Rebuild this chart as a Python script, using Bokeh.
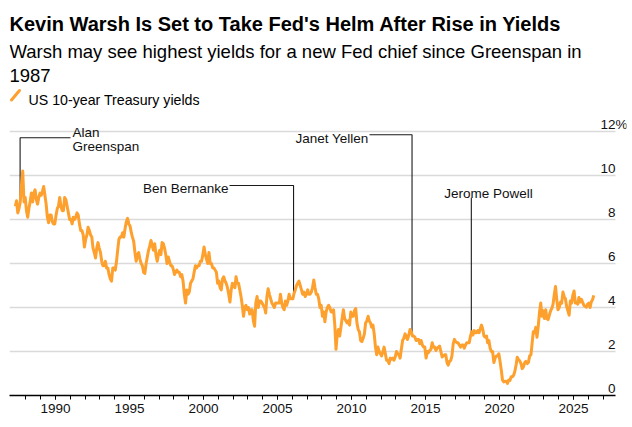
import numpy as np
import pandas as pd
from bokeh.plotting import figure
from bokeh.models import Range1d, FixedTicker
from bokeh.core.properties import value
from bokeh.embed import file_html
from bokeh.resources import INLINE

# ---------------- data ----------------
title_text = "Kevin Warsh Is Set to Take Fed's Helm After Rise in Yields"
subtitle_lines = ["Warsh may see highest yields for a new Fed chief since Greenspan in", "1987"]
series_label = "US 10-year Treasury yields"

first_month = "1987-04"
y1987 = [8.6, 8.85, 8.3, 8.5, 8.8, 9.6, 10.2, 8.8, 9.0]
y1988 = [8.4, 8.1, 8.5, 8.8, 9.2, 8.8, 9.2, 9.35, 8.9, 8.7, 9.0, 9.2]
y1989 = [9.1, 9.3, 9.5, 9.1, 8.7, 8.1, 7.85, 8.2, 8.2, 7.9, 7.8, 7.8]
y1990 = [8.2, 8.5, 8.6, 9.0, 8.6, 8.4, 8.4, 9.0, 8.9, 8.6, 8.3, 8.0]
y1991 = [8.0, 7.8, 8.1, 8.0, 8.1, 8.3, 8.2, 7.8, 7.5, 7.5, 7.3, 6.75]
y1992 = [7.1, 7.3, 7.65, 7.5, 7.3, 7.2, 6.7, 6.5, 6.25, 6.7, 6.95, 6.7]
y1993 = [6.5, 6.1, 5.9, 5.9, 6.1, 5.8, 5.8, 5.5, 5.3, 5.2, 5.8, 5.8]
y1994 = [5.7, 6.1, 6.6, 7.1, 7.2, 7.2, 7.4, 7.2, 7.6, 7.9, 8.05, 7.8]
y1995 = [7.7, 7.4, 7.2, 7.0, 6.5, 6.1, 6.4, 6.5, 6.2, 6.0, 5.9, 5.6]
y1996 = [5.55, 6.0, 6.3, 6.6, 6.8, 7.05, 6.8, 6.6, 6.9, 6.4, 6.1, 6.4]
y1997 = [6.6, 6.4, 6.95, 6.9, 6.7, 6.4, 6.0, 6.3, 6.1, 5.9, 5.9, 5.75]
y1998 = [5.5, 5.6, 5.7, 5.6, 5.6, 5.4, 5.5, 5.2, 4.6, 4.2, 4.8, 4.6]
y1999 = [4.7, 5.1, 5.2, 5.3, 5.6, 5.9, 5.8, 5.9, 5.9, 6.1, 6.1, 6.4]
y2000 = [6.75, 6.4, 6.2, 6.0, 6.5, 6.0, 6.0, 5.8, 5.8, 5.7, 5.6, 5.1]
y2001 = [5.2, 4.9, 4.8, 5.3, 5.4, 5.2, 5.1, 4.9, 4.6, 4.25, 4.8, 5.1]
y2002 = [5.0, 4.9, 5.4, 5.1, 5.1, 4.8, 4.5, 4.1, 3.6, 4.0, 4.1, 3.9]
y2003 = [4.0, 3.7, 3.9, 3.9, 3.4, 3.15, 4.2, 4.5, 4.0, 4.3, 4.3, 4.2]
y2004 = [4.1, 4.0, 3.75, 4.5, 4.85, 4.6, 4.4, 4.2, 4.1, 4.0, 4.2, 4.2]
y2005 = [4.2, 4.2, 4.6, 4.2, 4.0, 3.9, 4.3, 4.1, 4.3, 4.6, 4.4, 4.4]
y2006 = [4.4, 4.65, 4.8, 5.0, 5.1, 5.2, 5.0, 4.8, 4.6, 4.7, 4.5, 4.6]
y2007 = [4.8, 4.6, 4.6, 4.7, 4.9, 5.25, 4.9, 4.6, 4.6, 4.4, 4.0, 4.1]
y2008 = [3.6, 3.8, 3.35, 3.8, 4.0, 4.1, 4.0, 3.8, 3.8, 3.9, 3.2, 2.1]
y2009 = [2.8, 3.0, 2.7, 3.1, 3.5, 3.9, 3.5, 3.4, 3.3, 3.4, 3.2, 3.8]
y2010 = [3.6, 3.6, 3.85, 3.95, 3.3, 3.0, 2.9, 2.5, 2.45, 2.6, 2.8, 3.3]
y2011 = [3.4, 3.6, 3.4, 3.3, 3.1, 3.2, 2.8, 2.2, 1.85, 2.2, 2.0, 1.9]
y2012 = [1.8, 2.0, 2.2, 1.9, 1.6, 1.6, 1.45, 1.7, 1.65, 1.7, 1.6, 1.75]
y2013 = [2.0, 1.9, 1.85, 1.7, 2.1, 2.5, 2.6, 2.8, 2.65, 2.55, 2.75, 3.0]
y2014 = [2.9, 2.7, 2.7, 2.65, 2.5, 2.55, 2.55, 2.35, 2.5, 2.3, 2.2, 2.2]
y2015 = [1.7, 2.0, 1.95, 2.05, 2.1, 2.4, 2.2, 2.2, 2.05, 2.15, 2.2, 2.25]
y2016 = [2.0, 1.75, 1.8, 1.85, 1.85, 1.5, 1.38, 1.55, 1.6, 1.8, 2.35, 2.55]
y2017 = [2.45, 2.4, 2.4, 2.3, 2.2, 2.3, 2.3, 2.15, 2.3, 2.4, 2.4, 2.4]
y2018 = [2.7, 2.9, 2.75, 2.95, 2.85, 2.85, 2.95, 2.85, 3.05, 3.2, 3.0, 2.7]
y2019 = [2.65, 2.7, 2.4, 2.5, 2.15, 2.0, 2.0, 1.5, 1.7, 1.8, 1.8, 1.9]
y2020 = [1.55, 1.15, 0.7, 0.62, 0.65, 0.65, 0.55, 0.7, 0.68, 0.85, 0.85, 0.92]
y2021 = [1.1, 1.4, 1.74, 1.63, 1.58, 1.45, 1.22, 1.3, 1.5, 1.55, 1.45, 1.5]
y2022 = [1.8, 1.85, 2.35, 2.9, 2.85, 3.1, 2.65, 3.15, 3.8, 4.2, 3.6, 3.85]
y2023 = [3.5, 3.9, 3.5, 3.45, 3.65, 3.85, 3.95, 4.15, 4.6, 4.95, 4.35, 3.9]
y2024 = [4.0, 4.25, 4.2, 4.7, 4.5, 4.4, 4.05, 3.85, 3.65, 4.3, 4.2, 4.55]
y2025 = [4.75, 4.2, 4.25, 4.15, 4.45, 4.25, 4.37, 4.23, 4.1, 4.05, 4.02, 4.15]
y2026 = [4.2, 4.0, 4.25, 4.35, 4.55]

year_ticks = [1990, 1995, 2000, 2005, 2010, 2015, 2020, 2025]
minor_years = list(range(1988, 2028))
y_ticks = [0, 2, 4, 6, 8, 10, 12]
y_tick_labels = ["0", "2", "4", "6", "8", "10", "12"]

chair_names = ["Alan Greenspan", "Ben Bernanke", "Janet Yellen", "Jerome Powell"]
chair_start = ["1987-08-11", "2006-02-01", "2014-02-03", "2018-02-05"]

# ---------------- derived ----------------
def dec_year(d):
    d = pd.Timestamp(d)
    return d.year + (d.dayofyear - 1) / (366 if d.is_leap_year else 365)

vals = (y1987 + y1988 + y1989 + y1990 + y1991 + y1992 + y1993 + y1994 + y1995 + y1996
        + y1997 + y1998 + y1999 + y2000 + y2001 + y2002 + y2003 + y2004 + y2005 + y2006
        + y2007 + y2008 + y2009 + y2010 + y2011 + y2012 + y2013 + y2014 + y2015 + y2016
        + y2017 + y2018 + y2019 + y2020 + y2021 + y2022 + y2023 + y2024 + y2025 + y2026)
dates = pd.date_range(first_month, periods=len(vals), freq="MS") + pd.Timedelta(days=14)
xs = np.array([dec_year(d) for d in dates])
ys = np.array(vals, dtype=float)
chair_x = [dec_year(d) for d in chair_start]
chair_y = [float(np.interp(cx, xs, ys)) for cx in chair_x]

# ---------------- layout helpers (canvas pixel -> data) ----------------
def xd(px):
    return 1990 + (px - 55) / 14.8

def yd(py):
    return (395 - py) / 22.0

FONT = value("Liberation Sans")
ORANGE = "#FDA02D"
INK = "#111111"

p = figure(width=628, height=419, output_backend="svg", toolbar_location=None,
           x_range=Range1d(xd(9), xd(626)), y_range=Range1d(0, yd(0)),
           y_axis_location=None, min_border_left=9, min_border_right=2,
           min_border_top=0, min_border_bottom=24)
p.outline_line_color = None
p.xgrid.visible = False
p.ygrid.visible = False
p.background_fill_color = "white"
p.border_fill_color = "white"

# gridlines
gy = [t for t in y_ticks if t > 0]
p.segment(x0=[xd(9)] * len(gy), x1=[xd(615)] * len(gy), y0=gy, y1=gy,
          line_color="#dadada", line_width=1.6)

# y labels inside plot, right aligned, above gridlines
p.text(x=[xd(615)] * len(y_ticks), y=y_ticks, text=y_tick_labels, text_align="right",
       text_baseline="alphabetic", y_offset=-7, text_font=FONT, text_font_size="13.5px",
       text_color=INK)
p.text(x=[xd(615)], y=[y_ticks[-1]], text=["%"], text_align="left",
       text_baseline="alphabetic", y_offset=-7, text_font=FONT, text_font_size="13.5px",
       text_color=INK)

# leader lines
lc = "#1a1a1a"
p.line(x=[xd(70), chair_x[0], chair_x[0]], y=[yd(137.3), yd(137.3), chair_y[0]],
       line_color=lc, line_width=1.1)
p.line(x=[xd(229), chair_x[1], chair_x[1]], y=[yd(185), yd(185), chair_y[1]],
       line_color=lc, line_width=1.1)
p.line(x=[xd(369), chair_x[2], chair_x[2]], y=[yd(134.3), yd(134.3), chair_y[2]],
       line_color=lc, line_width=1.1)
p.line(x=[chair_x[3], chair_x[3]], y=[yd(197.3), chair_y[3]], line_color=lc, line_width=1.1)

# data line
p.line(xs, ys, line_color=ORANGE, line_width=3, line_join="round")

# annotation texts
ann = dict(text_font=FONT, text_font_size="13.5px", text_color=INK, text_baseline="alphabetic")
g_first, g_last = chair_names[0].split(" ")
p.text(x=[xd(72), xd(72)], y=[yd(132), yd(146)], text=[g_first, g_last], text_align="left", **ann)
p.text(x=[xd(228)], y=[yd(187.5)], text=[chair_names[1]], text_align="right", **ann)
p.text(x=[xd(368)], y=[yd(137.5)], text=[chair_names[2]], text_align="right", **ann)
p.text(x=[xd(488)], y=[yd(193)], text=[chair_names[3]], text_align="center", **ann)

# title / subtitle
p.text(x=[xd(9)], y=[yd(23.5)], text=[title_text], text_font=FONT, text_font_style="bold",
       text_font_size="20px", text_color="#000000", text_baseline="alphabetic")
p.text(x=[xd(9), xd(9)], y=[yd(51), yd(75)], text=subtitle_lines, text_font=FONT,
       text_font_size="18.5px", text_color="#000000", text_baseline="alphabetic")

# legend
p.segment(x0=[xd(11)], y0=[yd(99.5)], x1=[xd(19)], y1=[yd(90)], line_color=ORANGE,
          line_width=3, line_cap="round")
p.text(x=[xd(28)], y=[yd(99.3)], text=[series_label], text_font=FONT, text_font_size="14.2px",
       text_color="#000000", text_baseline="alphabetic")

# x axis
ax = p.xaxis[0]
ax.ticker = FixedTicker(ticks=year_ticks, minor_ticks=minor_years)
ax.bounds = (xd(9), xd(615))
ax.axis_line_color = "#000000"
ax.axis_line_width = 1.5
ax.major_tick_line_color = "#000000"
ax.minor_tick_line_color = "#000000"
ax.major_tick_in = 0
ax.major_tick_out = 4
ax.minor_tick_in = 0
ax.minor_tick_out = 4
ax.major_label_standoff = 4
ax.major_label_text_font = "Liberation Sans"
ax.major_label_text_font_size = "13.5px"
ax.major_label_text_color = INK

open("out.html", "w").write(file_html(p, INLINE))
